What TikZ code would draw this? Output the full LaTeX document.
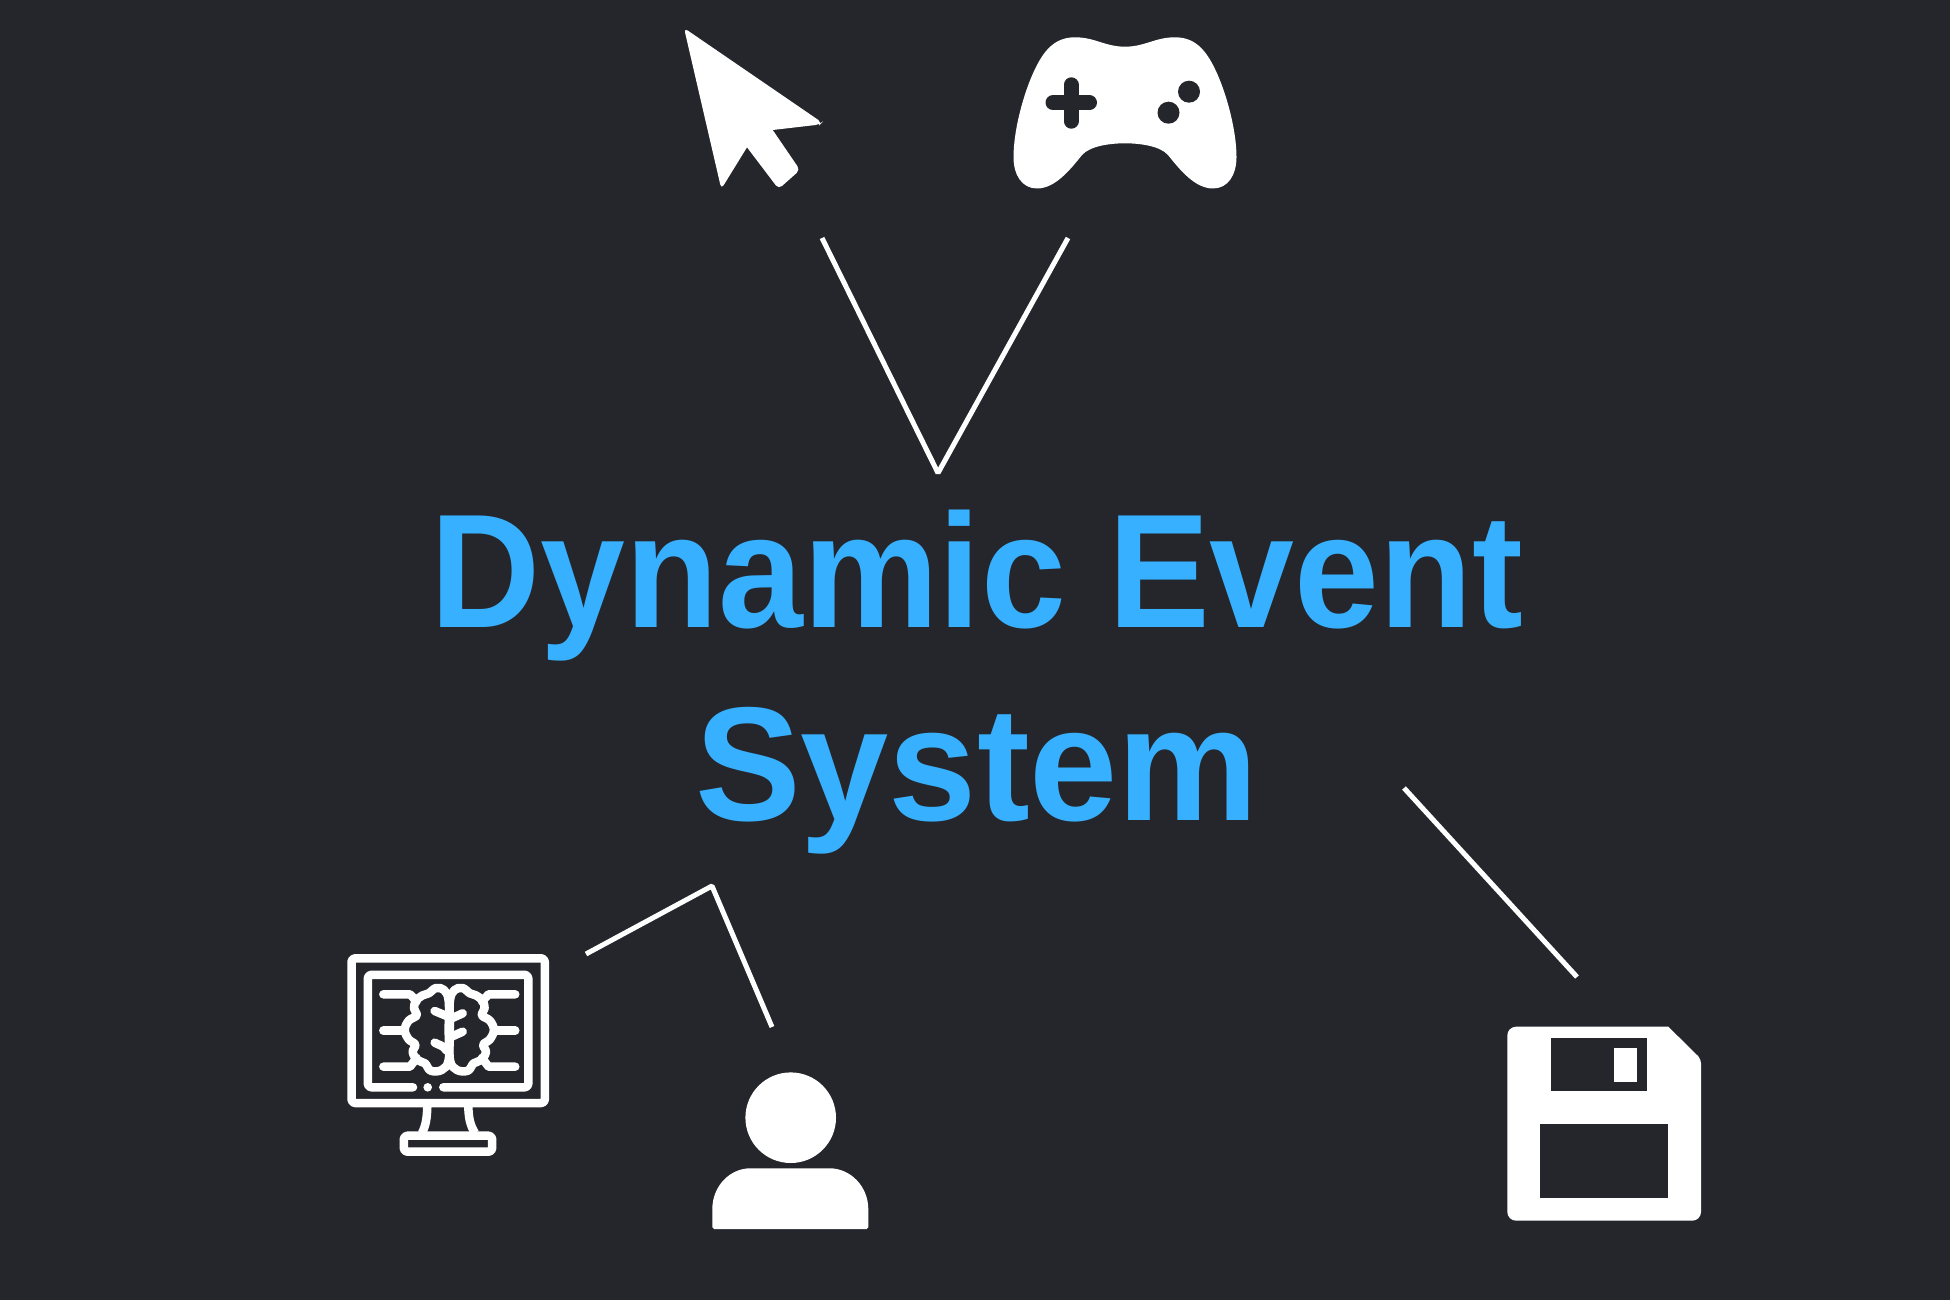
\documentclass[tikz,border=0pt]{standalone}
\usepackage{fontspec}
\setmainfont{Liberation Sans}
\definecolor{bgdark}{HTML}{25262B}
\definecolor{titleblue}{HTML}{36B0FF}
\tikzset{
  connector/.style={draw=white,line width=0.1cm,line cap=butt,line join=bevel},
  solidicon/.style={fill=white,draw=none},
  cutout/.style={fill=bgdark,draw=none},
  linework/.style={draw=white,line width=0.17cm,line cap=round,line join=round},
  titletext/.style={text=titleblue,font=\fontsize{92.3}{109.4}\selectfont\bfseries,align=center,inner sep=0pt,xscale=0.94}
}
\newcommand{\brainlobe}{%
  \draw[linework] plot[smooth cycle,tension=0.6] coordinates {(146,62) (132,30) (108,24) (86,40) (68,46) (48,62) (42,85) (50,106) (26,122) (14,150) (26,178) (46,194) (38,216) (52,240) (75,250) (92,272) (125,270) (146,240) (146,150)};
  \draw[linework] (-50,43) -- (30,43) -- (50,64);
  \draw[linework] (-50,152) -- (14,152);
  \draw[linework] (-50,260) -- (30,260) -- (50,234);
}
\begin{document}
\begin{tikzpicture}[x=0.02cm,y=-0.02cm]
\fill[bgdark] (0,0) rectangle (1950,1300);

% title
\node[titletext] (title) at (977,682) {Dynamic Event\\\scalebox{1.04}[1]{System}};

% cursor
\fill[solidicon] (753,75.25) [rounded corners=2.5pt] -- (822,122.5) -- (820,124.5) [sharp corners] -- (772.7,130) [rounded corners=2.5pt] -- (800,170) -- (778.6,189) [sharp corners] -- (747,147.3) [rounded corners=2.5pt] -- (721.3,189) -- (684,28) [sharp corners] -- cycle;

% gamepad
\fill[solidicon] (1125,46.7)
  .. controls (1145,46.7) and (1155,37.3) .. (1175,37.3)
  .. controls (1195,37.3) and (1205,50) .. (1213,65)
  .. controls (1226,90) and (1236.5,130) .. (1236.5,157)
  .. controls (1236.5,175) and (1228,188.5) .. (1213,188.5)
  .. controls (1195,188.5) and (1180,170) .. (1168,155)
  .. controls (1160,146) and (1140,143.3) .. (1125,143.3)
  .. controls (1110,143.3) and (1090,146) .. (1082,155)
  .. controls (1070,170) and (1055,188.5) .. (1037,188.5)
  .. controls (1022,188.5) and (1013.5,175) .. (1013.5,157)
  .. controls (1013.5,130) and (1024,90) .. (1037,65)
  .. controls (1045,50) and (1055,37.3) .. (1075,37.3)
  .. controls (1095,37.3) and (1105,46.7) .. (1125,46.7) -- cycle;
\draw[bgdark,line width=0.3cm,line cap=round] (1053,102.7) -- (1089.5,102.7);
\draw[bgdark,line width=0.3cm,line cap=round] (1071.2,84.8) -- (1071.2,121.2);
\fill[cutout] (1189,91.7) circle[radius=11];
\fill[cutout] (1168.5,112.7) circle[radius=11];

% monitor
\draw[linework,line cap=butt,rounded corners=2pt] (351.5,958.3) rectangle (544.8,1103);
\draw[linework,rounded corners=2pt] (413,1087.3) -- (367.8,1087.3) -- (367.8,974.8) -- (528.3,974.8) -- (528.3,1087.3) -- (443.3,1087.3);
\fill[solidicon] (427.7,1087.3) circle[radius=4.3];
\draw[linework,line cap=butt] (427.3,1106) .. controls (427,1118) and (426,1125) .. (422,1133);
\draw[linework,line cap=butt] (468.3,1106) .. controls (468.6,1118) and (470,1125) .. (475,1133);
\draw[linework,line cap=butt,rounded corners=2pt] (403.8,1135.7) rectangle (492.2,1151.7);
\begin{scope}[shift={(400,980)},xscale=1/3,yscale=1/3]
  \brainlobe
  \draw[linework] (104,93) -- (140,108);
  \draw[linework] (104,188) .. controls (115,195) and (130,195) .. (140,212);
  \draw[linework] (188,100) -- (155,115);
  \draw[linework] (188,155) -- (155,170);
\end{scope}
\begin{scope}[shift={(498.6,980)},xscale=-1/3,yscale=1/3]
  \brainlobe
\end{scope}

% person
\fill[solidicon] (790.7,1117.7) circle[radius=45.3];
\fill[solidicon,rounded corners=1pt] (712.3,1229) -- (712.3,1211)
  .. controls (712.3,1186) and (730,1168.3) .. (752,1168.3)
  -- (828,1168.3)
  .. controls (850,1168.3) and (868.3,1186) .. (868.3,1211)
  -- (868.3,1229) -- cycle;

% floppy
\fill[solidicon] (1600,1026.7) [sharp corners] -- (1668.3,1026.7) -- (1698,1056) [rounded corners=2pt] -- (1701,1060) [rounded corners=5pt] -- (1701,1220.7) -- (1507.3,1220.7) -- (1507.3,1026.7) -- cycle;
\fill[cutout] (1551,1038.3) rectangle (1646.7,1091);
\fill[solidicon] (1614.3,1048.3) rectangle (1636.7,1081.7);
\fill[cutout] (1540,1124) rectangle (1668.3,1198.3);

% connectors
\coordinate (cursorEnd) at (822,238);
\coordinate (padEnd) at (1068,238);
\coordinate (apexA) at (938,473);
\coordinate (saveStart) at (1404,788);
\coordinate (saveEnd) at (1577,977);
\coordinate (monitorEnd) at (586,954);
\coordinate (apexC) at (712,886);
\coordinate (personEnd) at (772,1027);
\draw[connector] (cursorEnd) -- (apexA) -- (padEnd);
\draw[connector] (saveStart) -- (saveEnd);
\draw[connector] (monitorEnd) -- (apexC) -- (personEnd);
\end{tikzpicture}
\end{document}
